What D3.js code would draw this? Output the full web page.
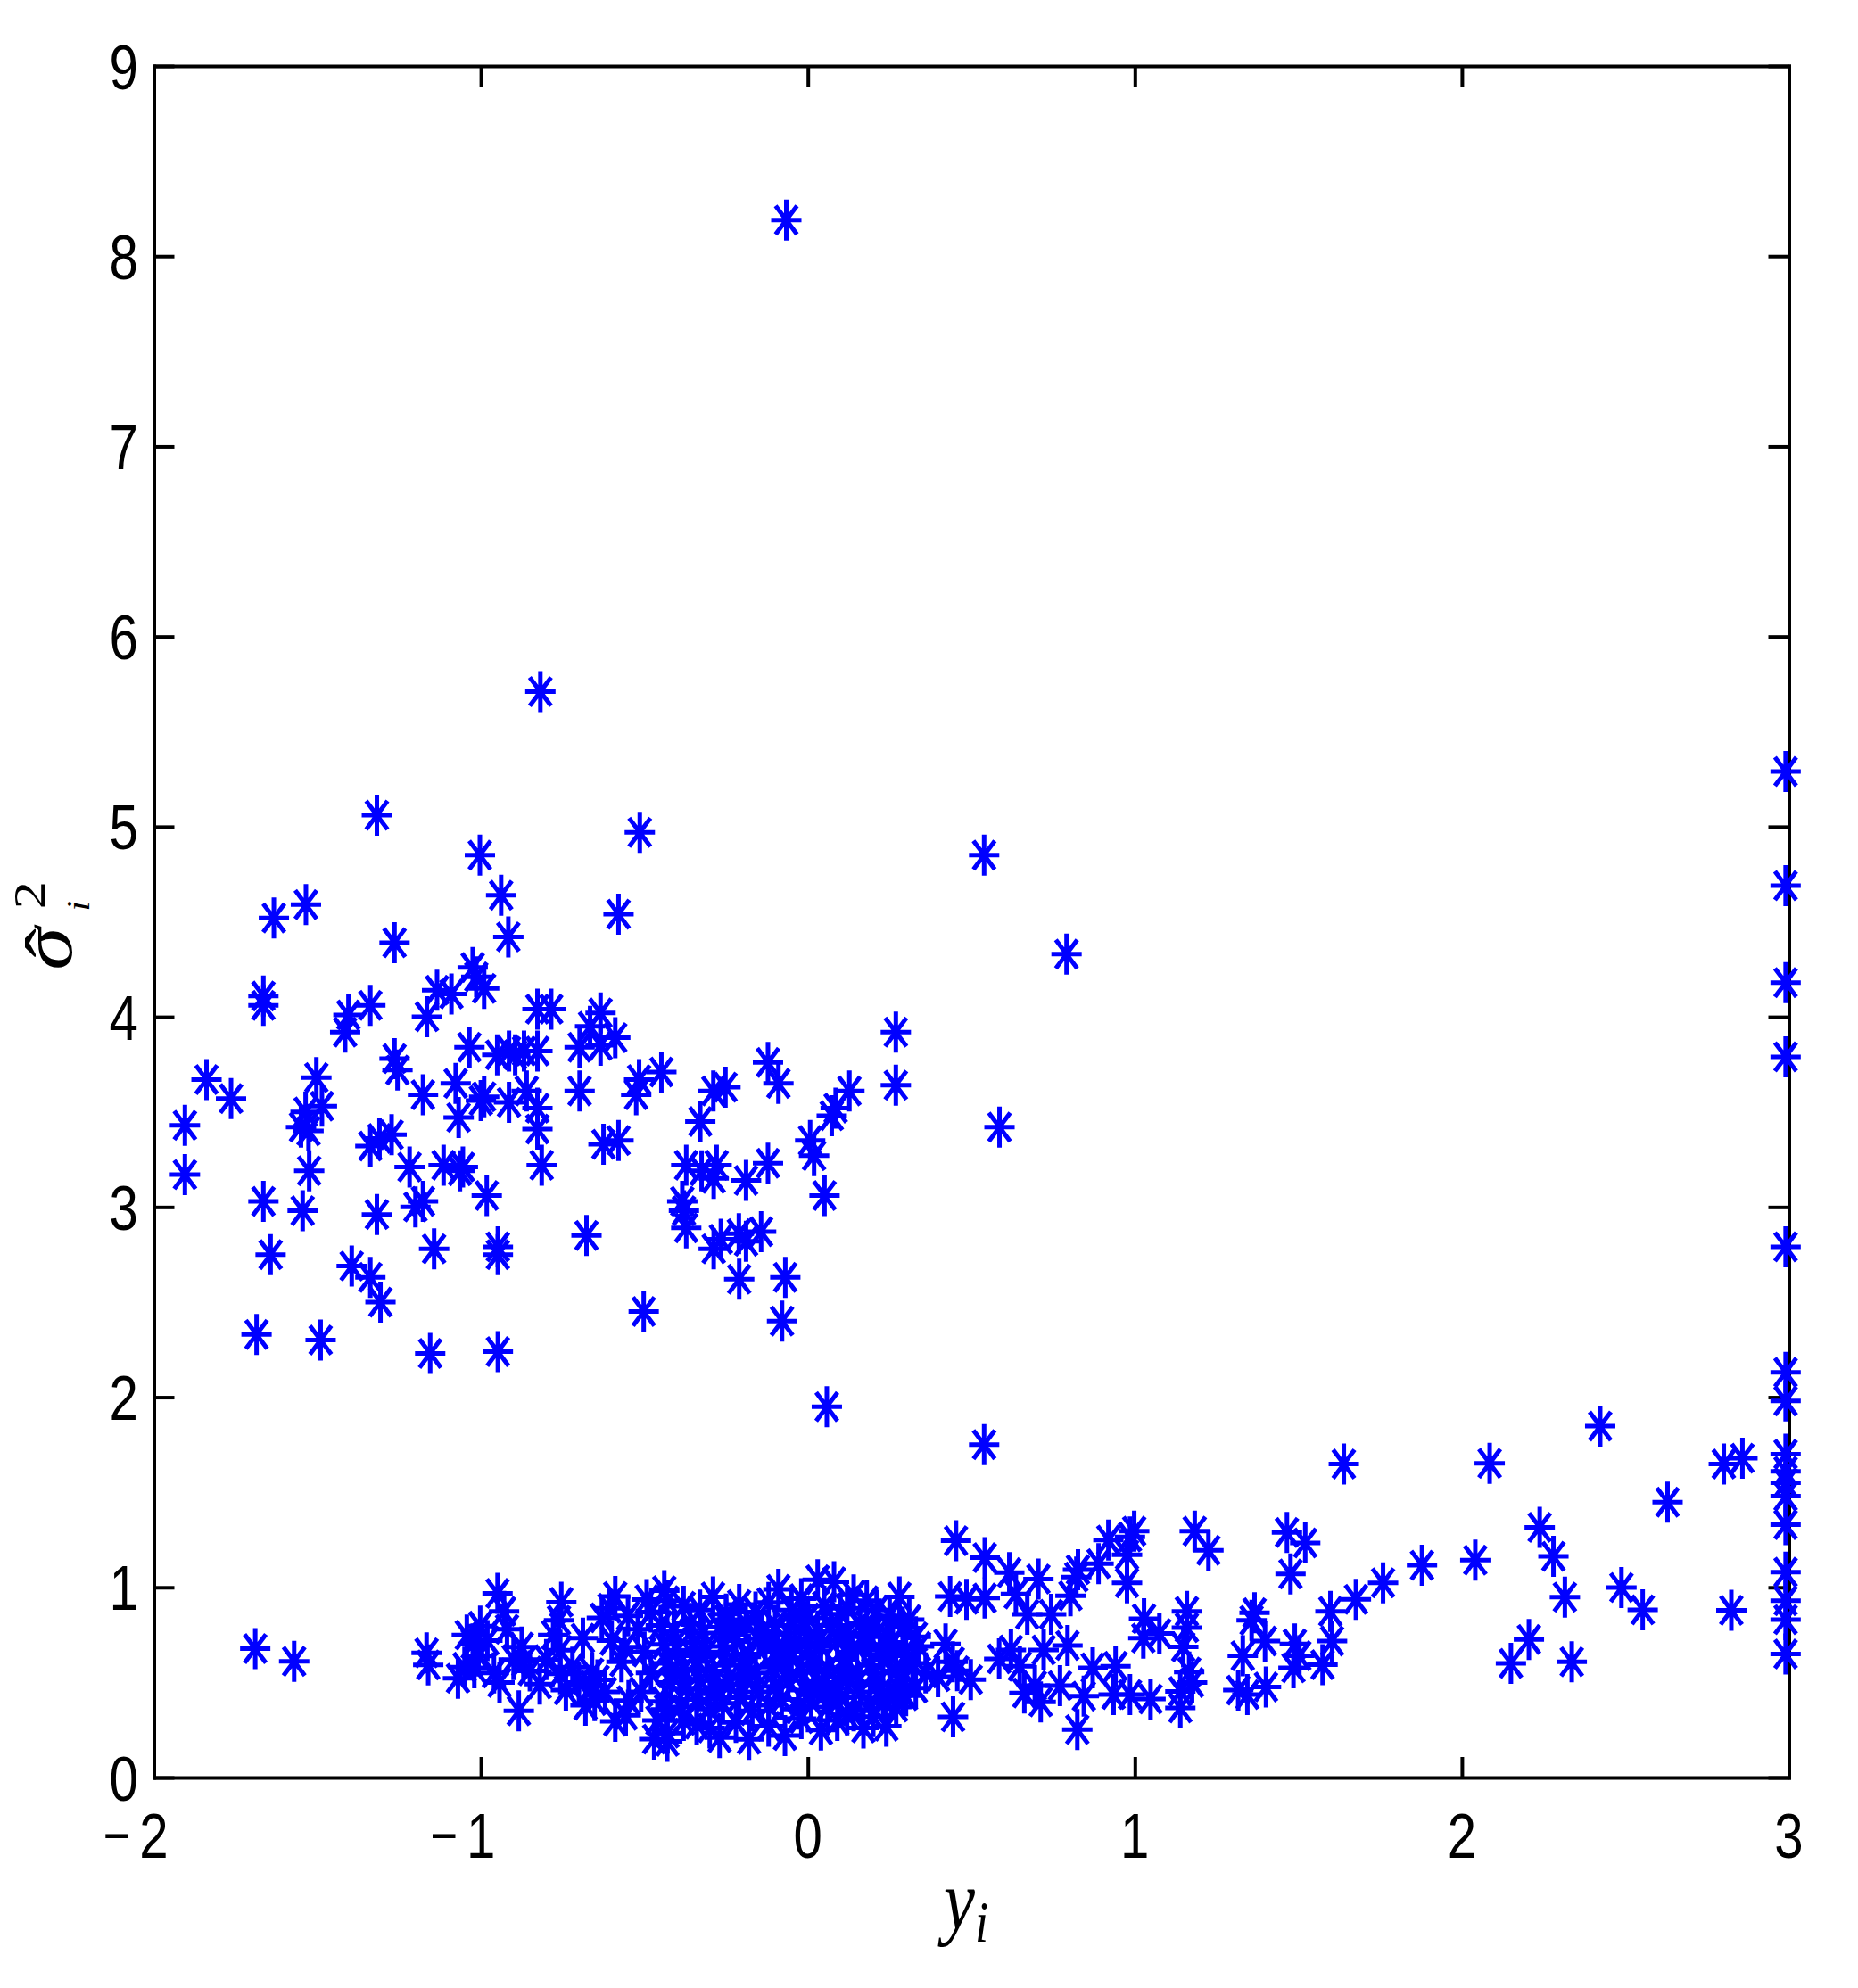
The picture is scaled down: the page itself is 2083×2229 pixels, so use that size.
<!DOCTYPE html>
<html>
<head>
<meta charset="utf-8">
<script src="https://cdn.jsdelivr.net/npm/d3@7"></script>
<style>
body { margin: 0; background: #fff; }
</style>
</head>
<body>
<svg id="chart"></svg>
<script>
// tick values
var xTicks = [-2, -1, 0, 1, 2, 3];
var yTicks = [0, 1, 2, 3, 4, 5, 6, 7, 8, 9];

// [y_i, sigma_i^2] pairs
var outliers = [
	[-0.066, 8.19], [-0.818, 5.71], [0.539, 4.85], [0.791, 4.33], [0.586, 3.42],
	[0.539, 1.75], [0.058, 1.95]
];

var upperCluster = [
	[-1.318,5.06],[-1.003,4.85],[-0.938,4.64],[-0.916,4.42],[-1.633,4.52],[-1.535,4.59],[-1.264,4.39],
	[-1.665,4.11],[-1.665,4.06],[-1.405,4.01],[-1.338,4.06],[-1.415,3.92],[-1.165,4.00],[-1.134,4.14],
	[-1.09,4.12],[-1.025,4.26],[-1.014,4.21],[-0.99,4.15],[-0.827,4.04],[-0.785,4.04],
	[-1.264,3.78],[-1.255,3.72],[-1.035,3.84],[-0.95,3.80],[-0.914,3.82],[-0.895,3.80],[-0.868,3.82],[-0.827,3.82],
	[-1.839,3.67],[-1.764,3.57],[-1.905,3.43],[-1.905,3.17],[-1.503,3.68],[-1.486,3.53],[-1.536,3.50],
	[-1.55,3.42],[-1.527,3.40],[-1.525,3.19],
	[-1.177,3.59],[-1.077,3.65],[-1.068,3.47],[-1.0,3.56],[-0.99,3.58],[-0.914,3.55],[-0.86,3.61],
	[-0.827,3.52],[-0.827,3.41],[-0.814,3.22],
	[-1.338,3.32],[-1.31,3.36],[-1.273,3.38],[-1.218,3.21],[-1.114,3.22],[-1.064,3.19],[-1.055,3.21],
	[-0.982,3.06],[-1.2,3.00],[-1.177,3.03],
	[-1.665,3.03],[-1.545,2.98],[-1.318,2.96],[-1.643,2.75],[-1.143,2.78],[-0.948,2.79],[-0.948,2.75],
	[-1.395,2.69],[-1.338,2.63],[-1.307,2.50],[-1.686,2.33],[-1.49,2.30],[-1.155,2.23],[-0.948,2.24],
	[-0.514,4.97],[-0.579,4.54],[-0.634,4.02],[-0.666,3.95],[-0.698,3.84],[-0.634,3.85],[-0.589,3.89],
	[-0.698,3.61],[-0.516,3.67],[-0.525,3.59],[-0.448,3.71],[-0.625,3.33],[-0.579,3.35],[-0.289,3.61],
	[-0.252,3.63],[-0.329,3.45],[-0.122,3.76],[-0.090,3.65],[0.127,3.61],[0.073,3.48],[0.085,3.52],
	[0.007,3.35],[0.019,3.27],[0.051,3.06],[0.269,3.92],[0.269,3.64],[-0.372,3.22],[-0.325,3.19],
	[-0.279,3.22],[-0.288,3.15],[-0.189,3.14],[-0.122,3.23],[-0.384,3.03],[-0.379,2.98],[-0.372,2.89],
	[-0.288,2.78],[-0.266,2.83],[-0.211,2.86],[-0.189,2.82],[-0.143,2.87],[-0.677,2.85],[-0.21,2.62],
	[-0.069,2.63],[-0.079,2.40],[-0.502,2.45]
];

var rightColumn = [
	[2.99,5.29],[2.99,4.69],[2.99,4.18],[2.99,3.79],[2.99,2.79],[2.99,2.13],[2.99,1.98],[2.99,1.70],
	[2.99,1.61],[2.99,1.55],[2.99,1.48],[2.99,1.33],[2.99,1.08],[2.99,0.93],[2.99,0.83],[2.99,0.65]
];

var lowerRight = [
	[2.423,1.848],[2.085,1.652],[2.629,1.448],[2.801,1.648],[2.858,1.679],[2.238,1.315],[2.28,1.163],
	[2.315,0.949],[2.488,0.999],[2.553,0.882],[2.824,0.879],[2.205,0.726],[2.15,0.60],[2.336,0.608],
	[2.041,1.143],[1.878,1.116],[1.759,1.023],[1.676,0.937],
	[1.639,1.648],[0.453,1.245],[0.541,1.156],[0.616,1.077],[0.705,1.043],[0.435,0.952],[0.485,0.937],
	[0.541,0.944],[0.636,0.965],[0.803,0.955],[0.826,1.093],[0.821,1.054],[0.889,1.124],[0.919,1.249],
	[0.976,1.171],[0.998,1.296],[0.985,1.265],[0.976,1.023],[1.183,1.296],[1.225,1.195],[1.465,1.288],
	[1.521,1.234],[1.476,1.070],[1.598,0.874],[1.366,0.866],[1.357,0.827],[1.603,0.718],[1.398,0.718],
	[1.33,0.64],[1.489,0.702],[1.485,0.577],[1.503,0.64],[1.574,0.593],[1.316,0.460],[1.344,0.436],
	[1.401,0.476],[1.028,0.835],[1.026,0.733],[1.075,0.757],[1.159,0.874],[1.159,0.788],[1.148,0.687],
	[1.166,0.554],[1.175,0.499],[1.139,0.452],[1.139,0.366],[1.048,0.413],[0.985,0.436],[0.935,0.436],
	[0.941,0.585],[0.871,0.577],[0.844,0.428],[0.824,0.252],[0.794,0.694],[0.771,0.483],[0.744,0.858],
	[0.712,0.397],[0.694,0.483],[0.662,0.444],[0.585,0.624],[0.621,0.671],[0.648,0.585],[0.671,0.858],
	[0.498,0.515],[0.457,0.562],[0.421,0.702],[0.444,0.319],[0.721,0.671],[0.443,0.608],[0.398,0.53]
];

var lowerLeft = [
	[-1.69,0.678],[-1.571,0.611],
	[-1.166,0.655],[-1.161,0.592],[-1.07,0.522],[-0.949,0.968],[-0.929,0.874],[-1.002,0.796],[-1.025,0.702],
	[-1.007,0.639],[-1.02,0.577],[-1.043,0.749],[-0.943,0.499],[-0.884,0.35],[-0.875,0.686],[-0.87,0.608],
	[-0.82,0.491],[-0.754,0.921],[-0.761,0.827],[-0.779,0.749],[-0.757,0.67],[-0.757,0.545],[-0.688,0.733],
	[-0.661,0.483],[-0.643,0.514],[-0.652,0.405],[-0.607,0.89],[-0.589,0.952],[-0.589,0.295],[-0.557,0.327],
	[-0.548,0.405],[-0.561,0.686],[-0.57,0.608],[-0.493,0.936],[-0.439,0.983],[-0.47,0.202],[-0.429,0.233],
	[-0.434,0.358],
	[-0.98,0.72],[-0.96,0.55],[-0.9,0.62],[-0.85,0.56],[-0.80,0.62],[-0.72,0.58],[-0.70,0.50],[-0.66,0.55],
	[-0.62,0.45],[-0.60,0.72],[-0.52,0.78],[-0.50,0.66],[-0.48,0.55],[-0.51,0.45],[-0.55,0.85],[-0.48,0.87],
	[-0.46,0.30],[-0.92,0.78],[-1.05,0.58],[-0.74,0.46],[-0.68,0.38],[-0.63,0.84]
];

var denseCore = [
	[-0.43,0.93],[-0.38,0.90],[-0.33,0.88],[-0.29,0.95],[-0.25,0.86],[-0.21,0.91],[-0.16,0.87],[-0.12,0.92],
	[-0.09,0.99],[-0.05,0.88],[-0.02,0.94],[0.03,1.04],[0.08,1.03],[0.05,0.90],[0.10,0.86],[0.14,0.96],
	[0.18,0.93],[0.21,0.88],[0.25,0.85],[0.28,0.95],[0.31,0.83],
	[-0.45,0.80],[-0.41,0.77],[-0.36,0.81],[-0.32,0.76],[-0.27,0.79],[-0.23,0.75],[-0.19,0.81],[-0.14,0.77],
	[-0.10,0.80],[-0.06,0.76],[-0.01,0.82],[0.03,0.77],[0.07,0.80],[0.12,0.76],[0.16,0.81],[0.20,0.78],
	[0.24,0.75],[0.29,0.79],[0.33,0.74],
	[-0.44,0.70],[-0.40,0.67],[-0.35,0.71],[-0.31,0.66],[-0.26,0.69],[-0.22,0.72],[-0.18,0.65],[-0.13,0.70],
	[-0.09,0.67],[-0.04,0.71],[0.00,0.66],[0.04,0.69],[0.09,0.72],[0.13,0.66],[0.17,0.70],[0.22,0.67],
	[0.26,0.71],[0.30,0.65],[0.34,0.69],
	[-0.43,0.60],[-0.38,0.57],[-0.34,0.61],[-0.29,0.56],[-0.25,0.59],[-0.20,0.62],[-0.16,0.55],[-0.11,0.58],
	[-0.07,0.61],[-0.02,0.56],[0.02,0.60],[0.06,0.57],[0.11,0.62],[0.15,0.55],[0.19,0.59],[0.23,0.62],
	[0.27,0.56],[0.32,0.60],[0.36,0.55],
	[-0.42,0.50],[-0.37,0.47],[-0.33,0.51],[-0.28,0.46],[-0.24,0.49],[-0.19,0.52],[-0.15,0.45],[-0.10,0.48],
	[-0.06,0.51],[-0.01,0.46],[0.03,0.50],[0.08,0.47],[0.12,0.52],[0.16,0.45],[0.21,0.49],[0.25,0.46],
	[0.29,0.51],[0.33,0.47],
	[-0.44,0.40],[-0.39,0.37],[-0.34,0.41],[-0.30,0.36],[-0.26,0.39],[-0.21,0.42],[-0.17,0.35],[-0.12,0.38],
	[-0.08,0.41],[-0.03,0.36],[0.01,0.40],[0.06,0.37],[0.10,0.42],[0.14,0.35],[0.19,0.39],[0.23,0.41],
	[0.27,0.37],[0.30,0.43],
	[-0.43,0.19],[-0.34,0.28],[-0.27,0.21],[-0.18,0.20],[-0.07,0.22],[0.04,0.25],[0.17,0.26],[0.24,0.27],
	[0.29,0.44],[-0.38,0.30],[-0.22,0.29],[-0.12,0.27],[-0.02,0.31],[0.09,0.30],[0.12,0.33],[-0.30,0.26],
	[0.20,0.32],
	[-0.35,0.64],[-0.20,0.54],[-0.05,0.63],[0.10,0.53],[0.25,0.64],[-0.42,0.55],[0.00,0.73],[-0.15,0.73],
	[0.18,0.74],[-0.30,0.44],[0.05,0.44],[-0.10,0.66],[0.20,0.55],[-0.25,0.83],[0.00,0.84],[0.12,0.89]
];

var W = 2083, H = 2229;
var svg = d3.select("#chart").attr("width", W).attr("height", H);

var x = d3.scaleLinear().domain([-2, 3]).range([172.5, 2005.5]);
var y = d3.scaleLinear().domain([0, 9]).range([1993, 74]);

// box with inward ticks on all four sides
function styleAxis(g) {
	g.select(".domain").attr("stroke", "#000").attr("stroke-width", 4).attr("stroke-linecap", "square");
	g.selectAll(".tick line").attr("stroke", "#000").attr("stroke-width", 4);
}
svg.append("g").attr("transform", "translate(0," + y(0) + ")")
	.call(d3.axisBottom(x).tickValues(xTicks).tickSize(-23).tickSizeOuter(0).tickFormat(""))
	.call(styleAxis);
svg.append("g").attr("transform", "translate(0," + y(9) + ")")
	.call(d3.axisTop(x).tickValues(xTicks).tickSize(-23).tickSizeOuter(0).tickFormat(""))
	.call(styleAxis);
svg.append("g").attr("transform", "translate(" + x(-2) + ",0)")
	.call(d3.axisLeft(y).tickValues(yTicks).tickSize(-23).tickSizeOuter(0).tickFormat(""))
	.call(styleAxis);
svg.append("g").attr("transform", "translate(" + x(3) + ",0)")
	.call(d3.axisRight(y).tickValues(yTicks).tickSize(-23).tickSizeOuter(0).tickFormat(""))
	.call(styleAxis);

// tick labels (narrow helvetica look)
var labelFont = "'Liberation Sans', Arial, sans-serif";
xTicks.forEach(function(t) {
	var g = svg.append("g").attr("transform", "translate(" + x(t) + ",2083) scale(0.82,1)");
	g.append("text")
		.attr("text-anchor", "middle")
		.style("font-family", labelFont)
		.style("font-size", "71px")
		.text(Math.abs(t));
	if (t < 0) {
		svg.append("g").attr("transform", "translate(" + (x(t) - 26) + ",2083) scale(0.82,1)")
			.append("text")
			.attr("text-anchor", "end")
			.attr("dy", -3)
			.style("font-family", labelFont)
			.style("font-size", "64px")
			.text("\u2212");
	}
});
yTicks.forEach(function(t) {
	svg.append("g").attr("transform", "translate(155," + (y(t) + 25.5) + ") scale(0.82,1)")
		.append("text")
		.attr("text-anchor", "end")
		.style("font-family", labelFont)
		.style("font-size", "71px")
		.text(t);
});

// axis titles
var mathFont = "'Liberation Serif', 'Times New Roman', serif";
var xl = svg.append("g").attr("transform", "translate(1058,2163) scale(0.82,1)")
	.append("text")
	.style("font-family", mathFont)
	.style("font-style", "italic");
xl.append("tspan").style("font-size", "96px").text("y");
xl.append("tspan").style("font-size", "66px").attr("dy", 14).text("i");

var yl = svg.append("g").attr("transform", "translate(80,1034) rotate(-90) scale(1.22,1)");
yl.append("text").attr("x", -44).attr("y", 0)
	.style("font-family", mathFont).style("font-style", "italic").style("font-size", "80px")
	.text("\u03c3");
yl.append("text").attr("x", -19).attr("y", 4).attr("text-anchor", "middle")
	.style("font-family", mathFont).style("font-size", "80px")
	.text("\u02c6");
yl.append("text").attr("x", 12).attr("y", -30)
	.style("font-family", mathFont).style("font-size", "51px")
	.text("2");
yl.append("text").attr("x", 10).attr("y", 20)
	.style("font-family", mathFont).style("font-style", "italic").style("font-size", "35px")
	.text("i");

// star markers
var star = "M0,-23V23M-17,0H17M-12,-16L12,16M-12,16L12,-16";
var allPoints = [].concat(outliers, upperCluster, rightColumn, lowerRight, lowerLeft, denseCore);
svg.append("g").selectAll("path")
	.data(allPoints)
	.join("path")
	.attr("transform", function(d) { return "translate(" + x(d[0]) + "," + y(d[1]) + ")"; })
	.attr("d", star)
	.attr("fill", "none")
	.attr("stroke", "#0000ff")
	.attr("stroke-width", 5);
</script>
</body>
</html>
